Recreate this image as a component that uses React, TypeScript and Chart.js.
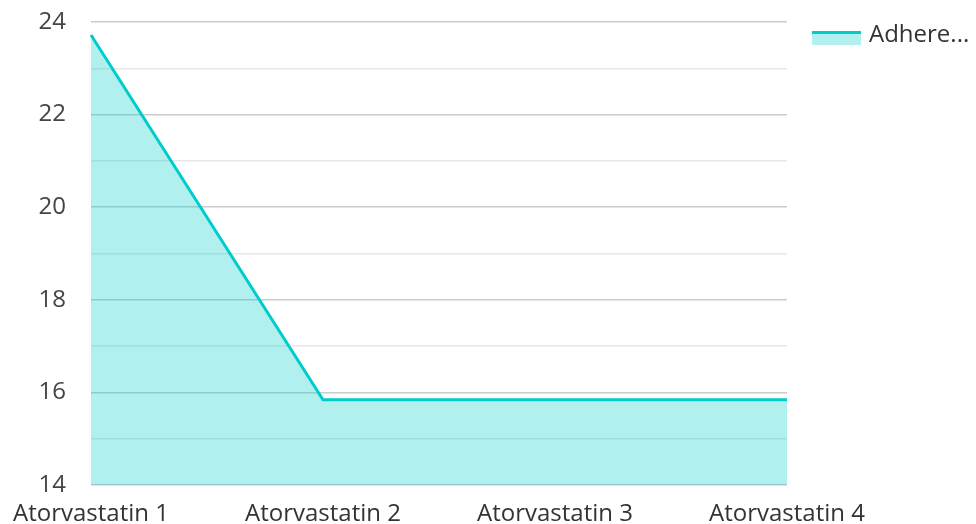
import React, { useEffect, useRef } from "react";
import { Chart, registerables } from "chart.js";

Chart.register(...registerables);

const categories = ["Atorvastatin 1", "Atorvastatin 2", "Atorvastatin 3", "Atorvastatin 4"];
const seriesName = "Adherence";
const legendText = "Adhere...";
const values = [23.72, 15.84, 15.84, 15.84];
const yMin = 14;
const yMax = 24;

const FONT = "'Open Sans', 'Noto Sans', sans-serif";
const LINE = "rgb(0,204,204)";
const FILL = "rgba(0,204,204,0.3)";

const legendPlugin = {
  id: "customLegend",
  afterDraw(chart: any) {
    const ctx = chart.ctx;
    const ds = chart.data.datasets[0];
    ctx.save();
    const x = 812;
    const y = 31;
    ctx.fillStyle = ds.backgroundColor;
    ctx.fillRect(x, y, 49, 14);
    ctx.fillStyle = ds.borderColor;
    ctx.fillRect(x, y, 49, 3);
    ctx.fillStyle = "#333333";
    ctx.font = `24px ${FONT}`;
    ctx.textBaseline = "middle";
    ctx.textAlign = "left";
    ctx.fillText(legendText, 869, 35);
    ctx.restore();
  },
};

const zeroPad = (axis: any) => {
  axis.paddingTop = 0;
  axis.paddingBottom = 0;
  axis.paddingLeft = 0;
  axis.paddingRight = 0;
};

export default function App() {
  const ref = useRef<HTMLCanvasElement | null>(null);
  useEffect(() => {
    document.body.style.margin = "0";
    const chart = new Chart(ref.current as HTMLCanvasElement, {
      type: "line",
      data: {
        labels: categories,
        datasets: [
          {
            label: seriesName,
            data: values,
            borderColor: LINE,
            backgroundColor: FILL,
            borderWidth: 3,
            fill: "start",
            tension: 0,
            pointRadius: 0,
            pointHoverRadius: 0,
          },
        ],
      },
      options: {
        animation: false,
        responsive: false,
        maintainAspectRatio: false,
        layout: { padding: { top: 22, right: 189, left: 0, bottom: 0 } },
        plugins: { legend: { display: false }, tooltip: { enabled: false } },
        scales: {
          x: {
            grid: { display: false, drawTicks: false },
            border: { display: false },
            ticks: {
              font: { family: FONT, size: 24 },
              color: "#333333",
              padding: 15,
              maxRotation: 0,
              autoSkip: false,
            },
            afterFit(axis: any) {
              axis.height = 39;
              zeroPad(axis);
            },
          },
          y: {
            min: yMin,
            max: yMax,
            grid: {
              drawTicks: false,
              color: (c: any) => (c.tick && c.tick.value % 2 === 0 ? "#cccccc" : "#e8e8e8"),
              lineWidth: 1.5,
            },
            border: { display: false },
            ticks: {
              stepSize: 1,
              font: { family: FONT, size: 24 },
              color: "#444444",
              padding: 25,
              callback: (v: any) => (Number(v) % 2 === 0 ? String(v) : ""),
            },
            afterFit(axis: any) {
              axis.width = 91;
              zeroPad(axis);
            },
          },
        },
      },
      plugins: [legendPlugin],
    });
    return () => chart.destroy();
  }, []);
  return (
    <div style={{ width: 976, height: 524 }}>
      <canvas ref={ref} width={976} height={524} style={{ display: "block" }} />
    </div>
  );
}
